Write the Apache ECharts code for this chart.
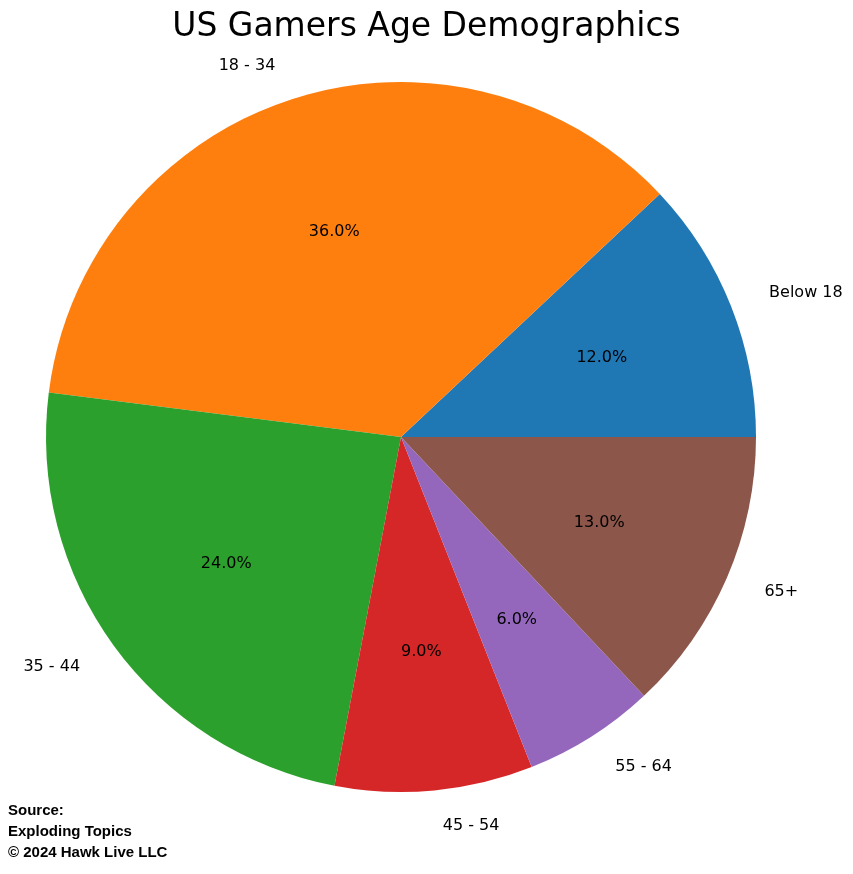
<!DOCTYPE html>
<html><head><meta charset="utf-8">
<script src="https://cdn.jsdelivr.net/npm/echarts@6/dist/echarts.min.js"></script>
<style>html,body{margin:0;padding:0;background:#fff}#c{width:853px;height:874px}</style>
</head><body><div id="c"></div>
<script>
const categories = ['Below 18','18 - 34','35 - 44','45 - 54','55 - 64','65+'];
const values = [12,36,24,9,6,13];
const colors = ['#1f77b4','#ff7f0e','#2ca02c','#d62728','#9467bd','#8c564b'];
const R = 355, CX = 401, CY = 437;
const data = categories.map((n,i)=>({name:n,value:values[i],itemStyle:{color:colors[i]}}));
const font = {fontFamily:'DejaVu Sans',fontSize:16,color:'#000'};
const chart = echarts.init(document.getElementById('c'));
chart.setOption({
  animation:false,
  title:{text:'US Gamers Age Demographics',left:'center',top:6,textStyle:{fontFamily:'DejaVu Sans',fontSize:33,fontWeight:'normal',color:'#000'}},
  graphic:[{type:'text',left:8,top:800,style:{text:'Source:\nExploding Topics\n© 2024 Hawk Live LLC',font:'bold 15px "Liberation Sans"',lineHeight:21,fill:'#000'}}],
  series:[
    {type:'pie',center:[CX,CY],radius:[0,R],startAngle:0,clockwise:false,data:data,silent:true,
     label:{show:true,position:'outside',formatter:'{b}',...font},
     labelLine:{show:false,length:R*0.1,length2:0},itemStyle:{borderWidth:0}},
    {type:'pie',center:[CX,CY],radius:[0,R*1.2],startAngle:0,clockwise:false,silent:true,
     data:categories.map((n,i)=>({name:n,value:values[i]})),
     itemStyle:{color:'rgba(0,0,0,0)'},
     label:{show:true,position:'inside',formatter:p=>p.value.toFixed(1)+'%',...font},labelLine:{show:false}}
  ]
});
</script></body></html>
